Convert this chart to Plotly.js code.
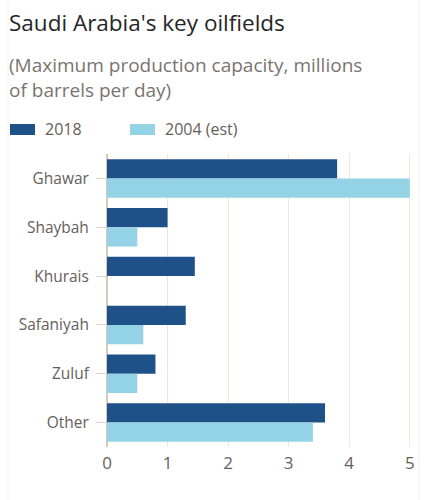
<!DOCTYPE html>
<html>
<head>
<meta charset="utf-8">
<script src="https://cdn.plot.ly/plotly-3.0.1.min.js"></script>
<style>
  html, body { margin: 0; padding: 0; background: #fff; }
  #chart { width: 429px; height: 500px; }
</style>
</head>
<body>
<div id="chart"></div>
<script>
// oilfields, top to bottom
var fields = ["Ghawar", "Shaybah", "Khurais", "Safaniyah", "Zuluf", "Other"];
// max production capacity, million barrels/day
var cap2018 = [3.8, 1.0, 1.45, 1.3, 0.8, 3.6];
var cap2004 = [5.0, 0.5, 0, 0.6, 0.5, 3.4];
var seriesNames = ["2018", "2004 (est)"];
var xTicks = [0, 1, 2, 3, 4, 5];

var dark = '#1f5189', light = '#94d3e6';
var grey = '#66605c';
var font = "'Open Sans', sans-serif";

var data = [
    {type: 'bar', orientation: 'h', y: fields, x: cap2018, name: seriesNames[0],
     marker: {color: dark}, hoverinfo: 'skip'},
    {type: 'bar', orientation: 'h', y: fields, x: cap2004, name: seriesNames[1],
     marker: {color: light}, hoverinfo: 'skip'}
];

// pixel helpers for the plot area (l=107, r=411, t=154, b=447)
function px(x) { return (x - 107) / 304; }
function py(y) { return (447 - y) / 293; }

var layout = {
    width: 429, height: 500,
    margin: {l: 107, r: 18, t: 154, b: 53},
    paper_bgcolor: '#fff', plot_bgcolor: '#fff',
    barmode: 'group', bargap: 0.21, bargroupgap: 0,
    showlegend: false,
    font: {family: font, color: grey, size: 15},
    title: {text: "Saudi Arabia's key oilfields", xref: 'container', yref: 'container',
            x: 9 / 429, xanchor: 'left', y: 1 - 23 / 500, yanchor: 'middle',
            font: {family: font, size: 22.5, color: '#262626'}},
    xaxis: {range: [0, 5.02], tickvals: xTicks, showgrid: true, gridcolor: '#efe6df',
            zeroline: true, zerolinecolor: '#d8c9bd', zerolinewidth: 1.5,
            showline: false, ticks: '', ticklabelstandoff: 4,
            tickfont: {size: 17, color: grey}, fixedrange: true},
    yaxis: {autorange: 'reversed', ticks: 'outside', ticklen: 10, tickcolor: '#e0d2c6',
            tickwidth: 1, showline: false, showgrid: false, ticklabelstandoff: 4,
            tickfont: {size: 15.5, color: grey}, fixedrange: true},
    annotations: [
        {text: "(Maximum production capacity, millions<br>of barrels per day)",
         xref: 'paper', yref: 'paper', align: 'left',
         x: px(7), y: py(78), xanchor: 'left', yanchor: 'middle', showarrow: false,
         font: {size: 19, color: '#7a7470'}},
        {text: seriesNames[0], xref: 'paper', yref: 'paper',
         x: px(43), y: py(129), xanchor: 'left', yanchor: 'middle', showarrow: false,
         font: {size: 16, color: grey}},
        {text: seriesNames[1], xref: 'paper', yref: 'paper',
         x: px(163), y: py(129), xanchor: 'left', yanchor: 'middle', showarrow: false,
         font: {size: 16, color: grey}}
    ],
    shapes: [
        {type: 'rect', xref: 'paper', yref: 'paper', x0: px(10), x1: px(35),
         y0: py(135), y1: py(124), fillcolor: dark, line: {width: 0}},
        {type: 'rect', xref: 'paper', yref: 'paper', x0: px(130), x1: px(155),
         y0: py(135), y1: py(124), fillcolor: light, line: {width: 0}},
        {type: 'line', xref: 'paper', yref: 'paper', x0: px(419), x1: px(419),
         y0: py(0), y1: py(500), line: {color: '#eeeeee', width: 1}},
        {type: 'line', xref: 'paper', yref: 'paper', x0: px(8), x1: px(8),
         y0: py(0), y1: py(500), line: {color: '#f3f3f3', width: 1}}
    ],
    hovermode: false
};

Plotly.newPlot('chart', data, layout, {displayModeBar: false, responsive: false});
</script>
</body>
</html>
